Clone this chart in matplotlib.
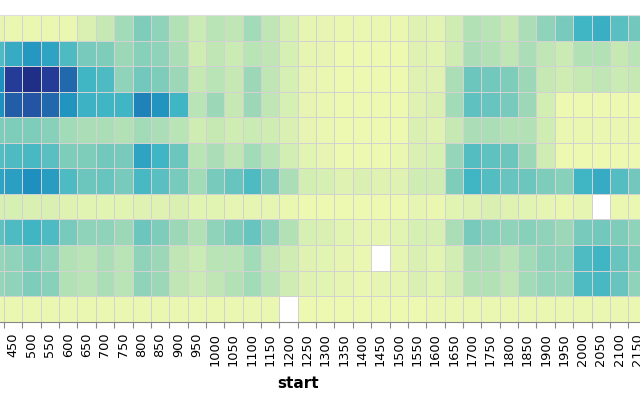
import numpy as np
import matplotlib.pyplot as plt

nan = np.nan

# start bins along the x axis (first one is only partly visible)
starts = [400, 450, 500, 550, 600, 650, 700, 750, 800, 850, 900, 950,
          1000, 1050, 1100, 1150, 1200, 1250, 1300, 1350, 1400, 1450,
          1500, 1550, 1600, 1650, 1700, 1750, 1800, 1850, 1900, 1950,
          2000, 2050, 2100, 2150]

# one list per heatmap row, top to bottom
row_01 = [1.2, 1.1, 1.1, 1.1, 1.1, 1.5, 2.0, 2.5, 3.0, 2.8, 2.3, 1.9,
          2.2, 2.1, 2.5, 2.1, 1.6, 1.2, 1.2, 1.1, 1.1, 1.1, 1.1, 1.4,
          1.3, 1.8, 2.3, 2.2, 2.0, 2.4, 2.8, 3.1, 4.0, 4.2, 3.6, 3.2]
row_02 = [3.8, 4.3, 4.8, 4.5, 3.8, 3.1, 3.0, 2.6, 2.9, 2.8, 2.4, 1.8,
          2.1, 1.9, 2.2, 2.1, 1.6, 1.2, 1.2, 1.0, 1.0, 1.0, 1.0, 1.4,
          1.3, 1.8, 2.4, 2.3, 2.1, 2.4, 2.1, 1.9, 2.3, 2.3, 2.0, 2.2]
row_03 = [5.0, 6.8, 7.2, 6.8, 5.8, 4.0, 3.8, 2.8, 3.2, 3.0, 2.6, 2.0,
          2.2, 2.0, 2.6, 2.1, 1.6, 1.2, 1.1, 1.0, 1.0, 1.0, 1.0, 1.4,
          1.4, 2.4, 3.3, 3.2, 3.0, 2.6, 2.0, 1.8, 2.0, 2.1, 1.9, 2.0]
row_04 = [5.0, 6.0, 6.2, 5.8, 4.9, 4.1, 4.0, 4.0, 5.3, 4.9, 4.0, 2.2,
          2.6, 2.0, 2.6, 2.1, 1.6, 1.2, 1.1, 1.0, 1.0, 1.0, 1.0, 1.4,
          1.5, 2.5, 3.5, 3.4, 3.1, 2.6, 1.7, 1.0, 1.0, 1.0, 1.0, 1.0]
row_05 = [3.0, 3.0, 3.0, 2.9, 2.5, 2.4, 2.4, 2.3, 2.5, 2.4, 2.2, 1.8,
          2.0, 1.8, 1.9, 1.8, 1.5, 1.2, 1.1, 1.0, 1.0, 1.0, 1.0, 1.5,
          1.4, 2.0, 2.4, 2.4, 2.3, 2.3, 1.8, 1.1, 1.1, 1.1, 1.1, 1.1]
row_06 = [3.7, 3.8, 3.9, 3.6, 3.0, 3.0, 3.2, 3.1, 4.5, 4.0, 3.3, 2.2,
          2.4, 2.1, 2.5, 2.2, 1.7, 1.3, 1.2, 1.0, 1.0, 1.0, 1.1, 1.5,
          1.6, 2.7, 3.7, 3.5, 3.3, 2.6, 1.8, 1.0, 1.0, 1.0, 1.0, 1.0]
row_07 = [4.5, 4.6, 5.0, 4.7, 3.8, 3.3, 3.4, 3.1, 3.9, 3.6, 3.1, 2.5,
          3.1, 3.4, 3.8, 3.1, 2.4, 1.7, 1.6, 1.4, 1.5, 1.4, 1.4, 1.8,
          1.8, 3.0, 4.0, 3.7, 3.4, 3.3, 3.0, 2.9, 4.0, 4.3, 3.7, 3.2]
row_08 = [1.6, 1.6, 1.5, 1.5, 1.4, 1.3, 1.3, 1.3, 1.4, 1.4, 1.5, 1.3,
          1.3, 1.2, 1.2, 1.2, 1.1, 1.0, 1.0, 1.0, 1.0, 1.0, 1.0, 1.2,
          1.1, 1.3, 1.4, 1.5, 1.4, 1.3, 1.2, 1.1, 1.2, nan, 1.1, 1.1]
row_09 = [3.5, 3.8, 4.0, 3.8, 3.1, 2.8, 2.8, 2.6, 3.3, 3.0, 2.6, 2.3,
          2.8, 3.0, 3.4, 2.8, 2.3, 1.6, 1.5, 1.3, 1.2, 1.2, 1.3, 1.6,
          1.6, 2.4, 3.1, 2.9, 2.8, 2.9, 2.8, 2.6, 3.1, 3.2, 3.0, 2.8]
row_10 = [2.7, 2.8, 3.0, 2.8, 2.3, 2.2, 2.4, 2.2, 2.8, 2.6, 2.1, 1.9,
          2.2, 2.2, 2.5, 2.1, 1.8, 1.4, 1.3, 1.2, 1.1, nan, 1.2, 1.5,
          1.3, 1.7, 2.4, 2.4, 2.2, 2.5, 2.8, 2.8, 3.8, 4.0, 3.4, 3.0]
row_11 = [2.7, 2.8, 3.0, 2.9, 2.3, 2.2, 2.4, 2.2, 2.8, 2.6, 2.1, 1.9,
          2.1, 2.3, 2.5, 2.2, 1.8, 1.4, 1.3, 1.2, 1.1, 1.2, 1.2, 1.5,
          1.3, 1.7, 2.3, 2.3, 2.1, 2.5, 2.7, 2.7, 3.8, 3.9, 3.4, 2.8]
row_12 = [1.1, 1.1, 1.1, 1.1, 1.1, 1.1, 1.1, 1.1, 1.1, 1.1, 1.1, 1.1,
          1.1, 1.1, 1.1, 1.1, nan, 1.0, 1.0, 1.0, 1.0, 1.0, 1.0, 1.0,
          1.1, 1.1, 1.1, 1.1, 1.1, 1.1, 1.1, 1.1, 1.1, 1.1, 1.1, 1.1]

rows = [row_01, row_02, row_03, row_04, row_05, row_06,
        row_07, row_08, row_09, row_10, row_11, row_12]
grid = np.ma.masked_invalid(np.array(rows))

fig = plt.figure(figsize=(6.4, 4), dpi=100)
ax = fig.add_axes([0, 78.3 / 400, 1, 306.7 / 400])

cmap = plt.get_cmap('YlGnBu').copy()
cmap.set_bad('white')
ax.pcolormesh(np.arange(len(starts) + 1), np.arange(len(rows) + 1), grid,
              cmap=cmap, vmin=0, vmax=8, edgecolors='#d2d2d2', linewidth=0.7)

ax.set_ylim(len(rows), 0)
ax.set_xlim(0.782, 35.64)

# labels in the middle of each cell (the cut-off first bin gets none),
# tick marks on the cell borders
ax.set_xticks(np.arange(1, len(starts)) + 0.5,
              labels=[str(s) for s in starts[1:]], rotation=90, fontsize=9.3)
ax.set_xticks(np.arange(1, len(starts)), minor=True)
ax.tick_params(axis='x', which='major', length=0, pad=8, colors='black')
ax.tick_params(axis='x', which='minor', length=4.3, width=0.8, color='#888888')
ax.set_yticks([])

for side in ['left', 'right']:
    ax.spines[side].set_visible(False)
ax.spines['bottom'].set_color('#888888')
ax.spines['top'].set_color('#dddddd')

fig.text(298 / 640, 16 / 400, 'start', fontsize=11, fontweight='bold',
         ha='center', va='center')

fig.savefig('out.png', dpi=100)
